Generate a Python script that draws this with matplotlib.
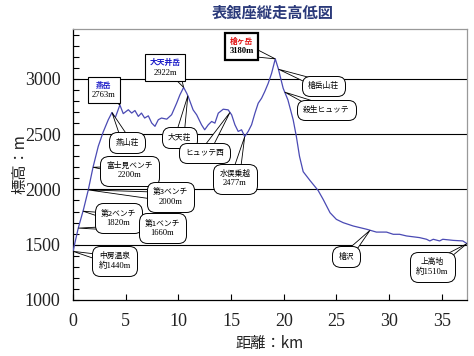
import numpy as np
import matplotlib
matplotlib.use("Agg")
import matplotlib.pyplot as plt
from matplotlib.offsetbox import AnnotationBbox, TextArea, VPacker
from matplotlib.ticker import MultipleLocator
from matplotlib.patches import Polygon

plt.rcParams['font.family'] = ['Noto Sans CJK JP', 'DejaVu Sans']

# ---- data ----
dist_km = [0.0, 0.5, 1.0, 1.45, 1.9, 2.4, 2.87, 3.35, 3.7, 4.0, 4.45, 4.77, 5.25, 5.57,
           5.88, 6.2, 6.5, 6.8, 7.15, 7.47, 7.78, 8.1, 8.4, 8.9, 9.36, 9.84, 10.15, 10.5,
           10.8, 10.94, 11.4, 11.74, 12.2, 12.5, 12.84, 13.16, 13.47, 13.79, 14.26, 14.73,
           15.06, 15.37, 15.68, 16.0, 16.3, 16.63, 16.95, 17.27, 17.58, 17.9, 18.2, 18.53,
           18.85, 19.2, 19.48, 19.95, 20.4, 20.9, 21.2, 21.5, 21.85, 22.5, 23.27, 23.75,
           24.4, 25.0, 25.65, 26.6, 27.9, 28.8, 29.76, 30.4, 31.0, 31.66, 32.9, 33.56,
           33.87, 34.2, 34.8, 35.1, 36.1, 37.0, 37.4]
elev_m = [1440, 1650, 1820, 1995, 2200, 2390, 2520, 2630, 2695, 2645, 2763, 2685, 2720, 2690,
          2713, 2660, 2690, 2645, 2665, 2600, 2570, 2630, 2645, 2635, 2675, 2780, 2855, 2922,
          2868, 2838, 2719, 2674, 2584, 2539, 2584, 2614, 2599, 2689, 2725, 2719,
          2674, 2584, 2524, 2539, 2477, 2524, 2584, 2689, 2779, 2824, 2884, 2959,
          3049, 3180, 3094, 2914, 2809, 2629, 2479, 2299, 2160, 2080, 1990, 1909,
          1789, 1729, 1699, 1669, 1639, 1614, 1614, 1594, 1594, 1579, 1564, 1549,
          1534, 1549, 1534, 1549, 1539, 1534, 1510]

label_names = ['燕岳', '大天井岳', '槍ヶ岳', '槍岳山荘', '殺生ヒュッテ', '燕山荘', '大天荘',
               'ヒュッテ西', '水俣乗越', '富士見ベンチ', '第3ベンチ', '第2ベンチ', '第1ベンチ',
               '中房温泉', '槍沢', '上高地']
label_sub = ['2763m', '2922m', '3180m', '', '', '', '', '', '2477m', '2200m', '2000m',
             '1820m', '1660m', '約1440m', '', '約1510m']
label_km = [4.45, 10.5, 19.2, 19.5, 20.1, 3.7, 10.9, 14.9, 16.3, 1.9, 1.45, 0.95, 0.5,
            0.0, 28.2, 37.4]
label_kind = ['peak', 'peak', 'top', 'hut', 'hut', 'hut', 'hut', 'hut', 'hut', 'hut', 'hut',
              'hut', 'hut', 'hut', 'hut', 'hut']
label_box_xy = [(2.94, 2899), (8.73, 3101), (15.99, 3295), (23.8, 2935), (24.05, 2719),
                (5.12, 2422), (10.1, 2467), (12.48, 2327), (15.37, 2098), (5.41, 2170),
                (9.25, 1931), (4.32, 1738), (8.49, 1648), (3.94, 1355), (25.95, 1391),
                (34.1, 1301)]

title = '表銀座縦走高低図'
xlabel = '距離：km'
ylabel = '標高：m'

# ---- figure ----
fig = plt.figure(figsize=(4.74, 3.56), dpi=100)
ax = fig.add_axes([73/474, 1-300/356, (467-73)/474, (300-29)/356])

ax.plot(dist_km, elev_m, color='#4A4AB4', lw=0.9, zorder=3)

ax.set_xlim(0, 37.4)
ax.set_ylim(1000, 3450)
for g in [1500, 2000, 2500, 3000]:
    ax.axhline(g, color='black', lw=0.8, zorder=1)

ax.xaxis.set_major_locator(MultipleLocator(5))
ax.yaxis.set_major_locator(MultipleLocator(500))
ax.yaxis.set_minor_locator(MultipleLocator(100))
ax.tick_params(axis='x', direction='in', length=4, width=0.8, pad=9, top=False)
ax.tick_params(axis='y', which='both', direction='in', length=4, width=0.8, pad=9, right=False)
for lab in ax.get_xticklabels() + ax.get_yticklabels():
    lab.set_fontfamily('Liberation Serif')
    lab.set_fontsize(13)
    lab.set_color('#222222')

for s in ['left', 'bottom']:
    ax.spines[s].set_color('black')
    ax.spines[s].set_linewidth(0.9)
for s in ['top', 'right']:
    ax.spines[s].set_color('#999999')
    ax.spines[s].set_linewidth(0.9)

ax.set_xlabel(xlabel, fontsize=11, labelpad=4, color='#222222')
ax.set_ylabel(ylabel, fontsize=11, labelpad=-3, color='#222222')
fig.text(0.575, 0.965, title, ha='center', va='center', fontsize=11, fontweight='bold',
         color='#2B3A7A')

fs = 5.6
T = ax.transData
Tinv = T.inverted()
for name, sub, km, kind, bxy in zip(label_names, label_sub, label_km, label_kind, label_box_xy):
    y = float(np.interp(km, dist_km, elev_m))
    # callout tail (wedge) from the box to the point
    C = T.transform(bxy)
    if kind in ('peak', 'top'):
        C = C + np.array([11.0, -6.0])
    P = T.transform((km, y))
    d = P - C
    d = d / np.hypot(*d)
    n = np.array([-d[1], d[0]])
    hw = 4.5
    tri_disp = np.array([C + n * hw, C - n * hw, P])
    tri = Tinv.transform(tri_disp)
    ax.add_patch(Polygon(tri, closed=True, fc='white', ec='black', lw=0.6, zorder=4,
                         clip_on=False))

    if kind == 'peak':
        col, w = '#1A1AC8', 'bold'
    elif kind == 'top':
        col, w = '#E01010', 'bold'
    else:
        col, w = 'black', 'normal'
    children = [TextArea(name, textprops=dict(color=col, fontweight=w, fontsize=fs))]
    if sub:
        children.append(TextArea(sub, textprops=dict(
            color='black', fontsize=fs + 0.6,
            fontfamily=['Liberation Serif', 'Noto Sans CJK JP'],
            fontweight='bold' if kind == 'top' else 'normal')))
    vp = VPacker(children=children, align='center', pad=0, sep=1)
    if kind in ('peak', 'top'):
        bstyle = 'square,pad=0.3'
        lw = 1.6 if kind == 'top' else 0.8
    else:
        bstyle = 'round,pad=0.45,rounding_size=0.6'
        lw = 0.7
    ab = AnnotationBbox(vp, bxy, xycoords='data', frameon=True, pad=0.3,
                        bboxprops=dict(boxstyle=bstyle, fc='white', ec='black', lw=lw),
                        zorder=5)
    ax.add_artist(ab)

fig.savefig('out.png', dpi=100)
